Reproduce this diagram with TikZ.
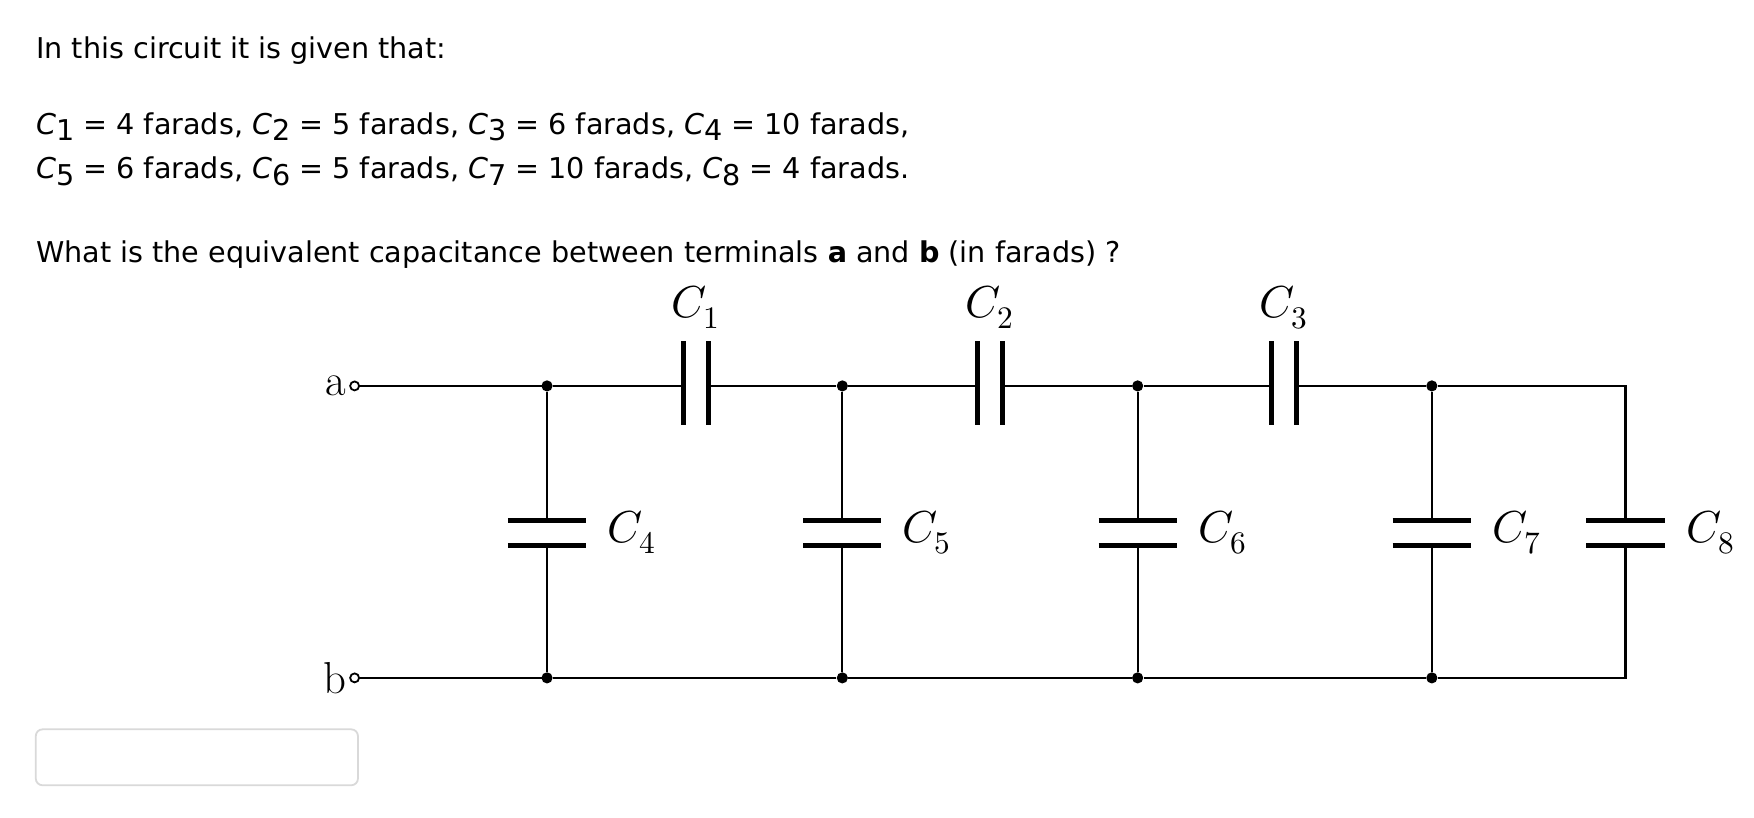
\documentclass[tikz,border=0pt]{standalone}
\usepackage{fontspec}
\setmainfont{DejaVu Sans}
\newfontfamily\lmfont{Latin Modern Roman}
\usepackage{unicode-math}
\setmathfont{Latin Modern Math}
\newcommand{\cc}[1]{\textit{C}\raisebox{-0.22em}{#1}}
\begin{document}
\begin{tikzpicture}[x=0.5pt,y=-0.5pt,
  wire/.style={line width=1pt},
  plate/.style={line width=2.2pt},
  txt/.style={anchor=base west,inner sep=0,font=\fontsize{12.8}{15}\selectfont},
  clab/.style={inner sep=0,font=\fontsize{20}{24}\selectfont},
  dot/.style={circle,fill,inner sep=0,minimum size=5pt},
  term/.style={circle,draw,line width=0.8pt,inner sep=0,minimum size=4pt,fill=white}]
\useasboundingbox (0,0) rectangle (1568,731);
\node[txt] (t1) at (32,52) {In this circuit it is given that:};
\node[txt] (t2) at (32,120) {\cc{1} = 4 farads, \cc{2} = 5 farads, \cc{3} = 6 farads, \cc{4} = 10 farads,};
\node[txt] (t3) at (32,160) {\cc{5} = 6 farads, \cc{6} = 5 farads, \cc{7} = 10 farads, \cc{8} = 4 farads.};
\node[txt] (t4) at (32,235) {What is the equivalent capacitance between terminals \textbf{a} and \textbf{b} (in farads) ?};
\node[draw=black!15,rounded corners=3pt,line width=0.8pt,minimum width=144pt,minimum height=25pt,inner sep=0] (box) at (176,677) {};
\draw[wire] (317,345) -- (489,345);
\draw[wire] (317,606) -- (489,606);
\node[term] (a) at (317,345) {};
\node[term] (b) at (317,606) {};
\node[clab,anchor=east] (la) at (310,345) {\lmfont a};
\node[clab,anchor=east] (lb) at (310,606) {\lmfont b};
\foreach \i/\x in {1/489,2/753,3/1017,4/1280}{
  \node[dot] (t\i) at (\x,345) {};
  \node[dot] (d\i) at (\x,606) {};
}
\coordinate (tr) at (1453,345);
\coordinate (br) at (1453,606);
\foreach \i/\x in {1/622,2/885,3/1148}{
  \coordinate (sl\i) at (\x-11,345);
  \coordinate (sr\i) at (\x+11,345);
  \draw[plate] (\x-11,305) -- (\x-11,380);
  \draw[plate] (\x+11,305) -- (\x+11,380);
  \node[clab] (cs\i) at (\x,275) {$C_{\i}$};
}
\draw[wire] (t1) -- (sl1);
\draw[wire] (sr1) -- (t2) -- (sl2);
\draw[wire] (sr2) -- (t3) -- (sl3);
\draw[wire] (sr3) -- (t4) -- (tr) -- (1453,465);
\draw[wire] (1453,488) -- (br) -- (d4) -- (d3) -- (d2) -- (d1);
\foreach \i/\x/\n in {1/489/4,2/753/5,3/1017/6,4/1280/7}{
  \coordinate (su\i) at (\x,465);
  \coordinate (sd\i) at (\x,488);
  \draw[plate] (\x-35,465) -- (\x+35,465);
  \draw[plate] (\x-35,488) -- (\x+35,488);
  \draw[wire] (t\i) -- (su\i);
  \draw[wire] (sd\i) -- (d\i);
  \node[clab] (cp\i) at (\x+76,476) {$C_{\n}$};
}
\draw[plate] (1418,465) -- (1488,465);
\draw[plate] (1418,488) -- (1488,488);
\node[clab] (c8) at (1529,476) {$C_{8}$};
\end{tikzpicture}
\end{document}
